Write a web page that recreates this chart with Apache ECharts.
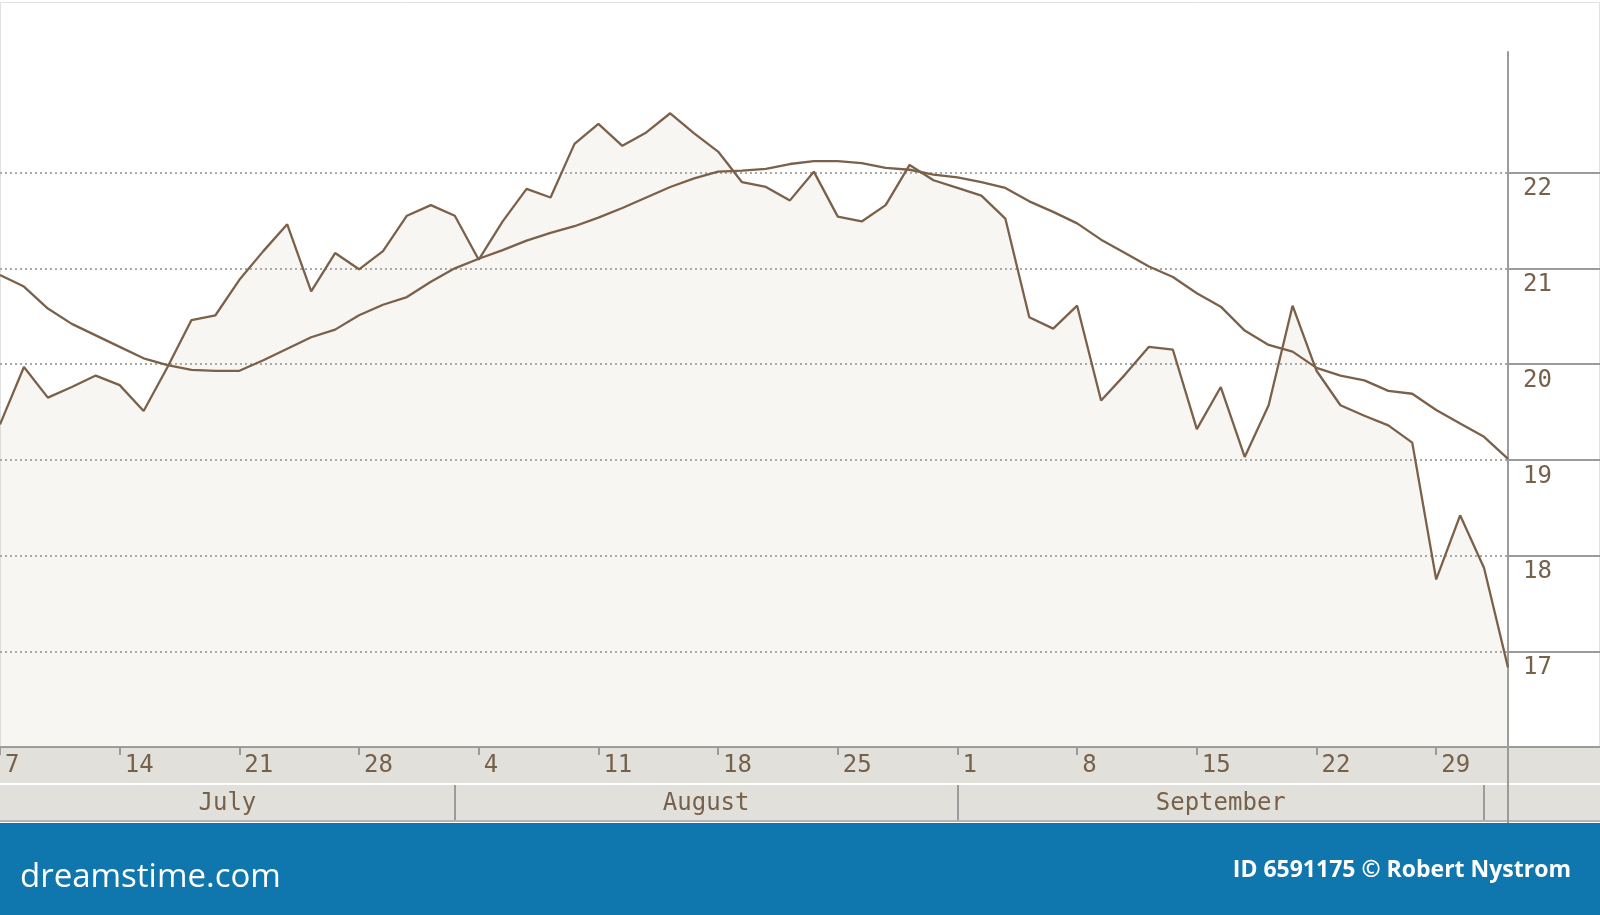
<!DOCTYPE html>
<html><head><meta charset="utf-8">
<script src="https://cdn.jsdelivr.net/npm/echarts@6/dist/echarts.min.js"></script>
<style>html,body{margin:0;padding:0;background:#fff}#c{width:1600px;height:915px}</style>
</head><body><div id="c"></div>
<script>
// ---- data ----
const dates = [
  'Jul 7','Jul 8','Jul 9','Jul 10','Jul 11',
  'Jul 14','Jul 15','Jul 16','Jul 17','Jul 18',
  'Jul 21','Jul 22','Jul 23','Jul 24','Jul 25',
  'Jul 28','Jul 29','Jul 30','Jul 31','Aug 1',
  'Aug 4','Aug 5','Aug 6','Aug 7','Aug 8',
  'Aug 11','Aug 12','Aug 13','Aug 14','Aug 15',
  'Aug 18','Aug 19','Aug 20','Aug 21','Aug 22',
  'Aug 25','Aug 26','Aug 27','Aug 28','Aug 29',
  'Sep 1','Sep 2','Sep 3','Sep 4','Sep 5',
  'Sep 8','Sep 9','Sep 10','Sep 11','Sep 12',
  'Sep 15','Sep 16','Sep 17','Sep 18','Sep 19',
  'Sep 22','Sep 23','Sep 24','Sep 25','Sep 26',
  'Sep 29','Sep 30','Oct 1','Oct 2'
];
const price = [
  19.37,19.97,19.65,19.76,19.88, 19.78,19.51,19.97,20.46,20.51,
  20.88,21.18,21.46,20.76,21.16, 20.99,21.18,21.55,21.66,21.55,
  21.09,21.49,21.83,21.74,22.30, 22.51,22.28,22.42,22.62,22.41,
  22.22,21.90,21.85,21.71,22.01, 21.54,21.49,21.66,22.08,21.92,
  21.84,21.76,21.52,20.49,20.37, 20.61,19.62,19.89,20.18,20.15,
  19.32,19.76,19.03,19.57,20.61, 19.93,19.57,19.46,19.36,19.18,
  17.75,18.42,17.87,16.83
];
const movingAvg = [
  20.93,20.81,20.58,20.42,20.30, 20.18,20.06,19.99,19.94,19.93,
  19.93,20.04,20.16,20.28,20.36, 20.51,20.62,20.70,20.86,21.00,
  21.10,21.19,21.29,21.37,21.44, 21.53,21.63,21.74,21.85,21.94,
  22.01,22.02,22.04,22.09,22.12, 22.12,22.10,22.05,22.03,21.98,
  21.95,21.90,21.84,21.70,21.59, 21.47,21.30,21.16,21.02,20.91,
  20.74,20.60,20.35,20.20,20.13, 19.96,19.88,19.83,19.72,19.69,
  19.52,19.38,19.24,19.01
];
const yTickValues = [16,17,18,19,20,21,22];
const yLabelValues = [17,18,19,20,21,22];
const months = ['July','August','September'];
const monthStartIdx = [19,40,62];
const monthMidIdx = [9.5,29.5,51];
const creditLeft = 'dreamstime.com';
const creditRight = 'ID 6591175 \u00a9 Robert Nystrom';

// ---- style / layout ----
const W = 1600, H = 915;
const G = {left:0, right:92, top:52, bottom:168};
const plotBottom = H - G.bottom, plotRight = W - G.right;
const TEXT = '#76614b', LINE = '#7b6149', AX = '#9b9b9b', BAND = '#e2e0db';
const FONT = 'DejaVu Sans Mono';
const FS = 24;

const chart = echarts.init(document.getElementById('c'), null, {renderer:'canvas'});
chart.setOption({
  animation:false,
  backgroundColor:'#fff',
  grid:{left:G.left, right:G.right, top:G.top, bottom:G.bottom, containLabel:false, outerBoundsMode:'none'},
  xAxis:[{
    type:'category', data:dates, boundaryGap:false,
    axisLine:{show:true, onZero:false, lineStyle:{color:AX, width:2}},
    axisTick:{show:true, interval:(i)=>i%5===0, length:8, lineStyle:{color:AX, width:2}},
    axisLabel:{interval:(i)=>i%5===0, formatter:(v)=>v.split(' ')[1], align:'left', padding:[0,0,0,5],
      margin:7, color:TEXT, fontFamily:FONT, fontSize:FS},
    splitLine:{show:false}
  },{
    type:'value', min:0, max:dates.length-1, position:'bottom', offset:38,
    axisLine:{show:false, onZero:false},
    axisTick:{show:true, customValues:monthStartIdx, length:35, lineStyle:{color:AX, width:2}},
    axisLabel:{customValues:monthMidIdx, formatter:(v)=>months[monthMidIdx.indexOf(v)],
      color:TEXT, fontFamily:FONT, fontSize:FS, margin:7},
    splitLine:{show:false}
  }],
  yAxis:{
    type:'value', position:'right', min:16, max:23.26,
    axisLine:{show:true, onZero:false, lineStyle:{color:AX, width:2}},
    axisTick:{show:true, customValues:yTickValues, length:92, lineStyle:{color:AX, width:2}},
    axisLabel:{customValues:yLabelValues, margin:15, align:'left', verticalAlign:'top',
      lineHeight:33, color:TEXT, fontFamily:FONT, fontSize:FS},
    splitLine:{show:true, lineStyle:{color:'#a8a8a8', width:2, type:[2,3]}}
  },
  series:[
    {type:'line', data:price, symbol:'none', lineStyle:{color:LINE, width:2.3},
     areaStyle:{color:'rgba(196,186,164,0.19)', origin:'start'}, z:3},
    {type:'line', data:movingAvg, symbol:'none', lineStyle:{color:LINE, width:2.3}, z:3}
  ],
  graphic:[
    {type:'rect', z:-5, shape:{x:0, y:plotBottom, width:W, height:36}, style:{fill:BAND}},
    {type:'rect', z:-5, shape:{x:0, y:plotBottom+38, width:W, height:35}, style:{fill:BAND}},
    {type:'rect', z:-5, shape:{x:0, y:plotBottom+73, width:W, height:2}, style:{fill:'#b4b4b4'}},
    {type:'rect', z:-5, shape:{x:0, y:plotBottom+76, width:W, height:H-(plotBottom+76)}, style:{fill:'#0f76ae'}},
    {type:'line', z:5, shape:{x1:plotRight, y1:plotBottom, x2:plotRight, y2:plotBottom+76}, style:{stroke:AX, lineWidth:2}},
    {type:'rect', z:-6, shape:{x:0.5, y:2.5, width:W-1, height:plotBottom}, style:{fill:'none', stroke:'#e2e2e2', lineWidth:1}},
    {type:'text', z:6, left:20, top:plotBottom+114, style:{text:creditLeft, fill:'#fff', font:'500 33px "Open Sans"'}},
    {type:'text', z:6, right:29, top:plotBottom+112, style:{text:creditRight, fill:'#fff', font:'bold 23px "Open Sans"'}}
  ]
});
</script></body></html>
